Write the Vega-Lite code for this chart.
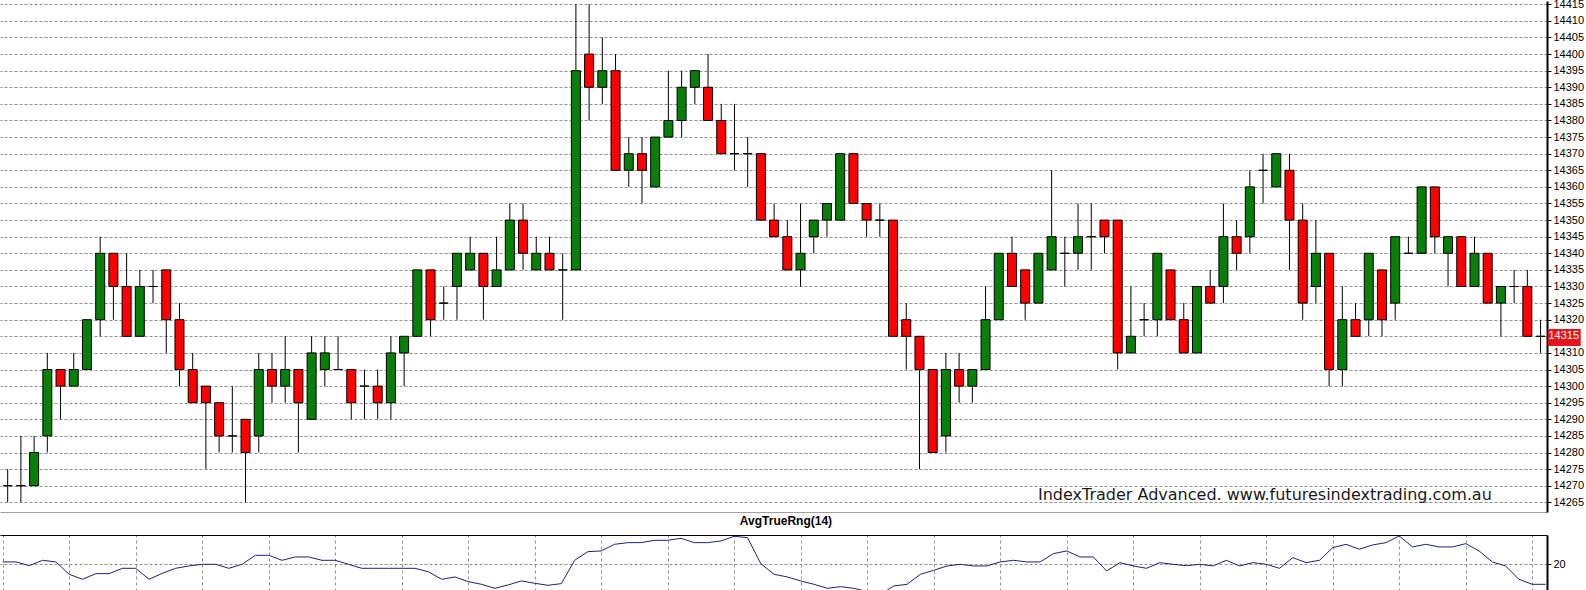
{
"$schema": "https://vega.github.io/schema/vega-lite/v6.json",
"padding": {"top": -2, "left": 0, "right": 0, "bottom": 0},
"background": "white",
"spacing": 23,
"bounds": "flush",
"config": {"view": {"stroke": null}, "font": "Liberation Sans"},
"datasets": {
"candles": [
{"i":1,"o":14270,"h":14275,"l":14265,"c":14270,"atr":20.47},
{"i":2,"o":14270,"h":14285,"l":14265,"c":14270,"atr":20.47},
{"i":3,"o":14270,"h":14285,"l":14270,"c":14280,"atr":19.73},
{"i":4,"o":14285,"h":14310,"l":14280,"c":14305,"atr":20.8},
{"i":5,"o":14305,"h":14305,"l":14290,"c":14300,"atr":20.47},
{"i":6,"o":14300,"h":14310,"l":14300,"c":14305,"atr":18.0},
{"i":7,"o":14305,"h":14320,"l":14305,"c":14320,"atr":17.0},
{"i":8,"o":14320,"h":14345,"l":14315,"c":14340,"atr":18.13},
{"i":9,"o":14340,"h":14340,"l":14320,"c":14330,"atr":18.13},
{"i":10,"o":14330,"h":14340,"l":14315,"c":14315,"atr":19.2},
{"i":11,"o":14315,"h":14335,"l":14315,"c":14330,"atr":19.2},
{"i":12,"o":14330,"h":14335,"l":14325,"c":14330,"atr":17.0},
{"i":13,"o":14335,"h":14335,"l":14310,"c":14320,"atr":18.2},
{"i":14,"o":14320,"h":14325,"l":14300,"c":14305,"atr":19.2},
{"i":15,"o":14305,"h":14310,"l":14295,"c":14295,"atr":19.67},
{"i":16,"o":14300,"h":14300,"l":14275,"c":14295,"atr":20.0},
{"i":17,"o":14295,"h":14295,"l":14280,"c":14285,"atr":20.0},
{"i":18,"o":14285,"h":14300,"l":14280,"c":14285,"atr":19.2},
{"i":19,"o":14290,"h":14290,"l":14265,"c":14280,"atr":20.0},
{"i":20,"o":14285,"h":14310,"l":14280,"c":14305,"atr":21.8},
{"i":21,"o":14305,"h":14310,"l":14295,"c":14300,"atr":21.8},
{"i":22,"o":14300,"h":14315,"l":14295,"c":14305,"atr":20.8},
{"i":23,"o":14305,"h":14305,"l":14280,"c":14295,"atr":21.47},
{"i":24,"o":14290,"h":14315,"l":14290,"c":14310,"atr":21.47},
{"i":25,"o":14305,"h":14315,"l":14300,"c":14310,"atr":20.8},
{"i":26,"o":14305,"h":14315,"l":14305,"c":14305,"atr":20.8},
{"i":27,"o":14305,"h":14305,"l":14290,"c":14295,"atr":20.0},
{"i":28,"o":14300,"h":14305,"l":14290,"c":14300,"atr":19.2},
{"i":29,"o":14300,"h":14305,"l":14290,"c":14295,"atr":19.2},
{"i":30,"o":14295,"h":14315,"l":14290,"c":14310,"atr":19.2},
{"i":31,"o":14310,"h":14315,"l":14300,"c":14315,"atr":19.2},
{"i":32,"o":14315,"h":14335,"l":14315,"c":14335,"atr":19.2},
{"i":33,"o":14335,"h":14335,"l":14315,"c":14320,"atr":18.53},
{"i":34,"o":14325,"h":14330,"l":14320,"c":14325,"atr":17.0},
{"i":35,"o":14330,"h":14340,"l":14320,"c":14340,"atr":17.47},
{"i":36,"o":14335,"h":14345,"l":14335,"c":14340,"atr":16.53},
{"i":37,"o":14340,"h":14340,"l":14320,"c":14330,"atr":16.0},
{"i":38,"o":14330,"h":14345,"l":14330,"c":14335,"atr":15.2},
{"i":39,"o":14335,"h":14355,"l":14335,"c":14350,"atr":15.87},
{"i":40,"o":14350,"h":14355,"l":14335,"c":14340,"atr":16.67},
{"i":41,"o":14335,"h":14345,"l":14335,"c":14340,"atr":16.2},
{"i":42,"o":14340,"h":14345,"l":14335,"c":14335,"atr":15.8},
{"i":43,"o":14335,"h":14340,"l":14320,"c":14335,"atr":16.13},
{"i":44,"o":14335,"h":14415,"l":14335,"c":14395,"atr":20.8},
{"i":45,"o":14400,"h":14415,"l":14380,"c":14390,"atr":22.53},
{"i":46,"o":14390,"h":14405,"l":14385,"c":14395,"atr":22.67},
{"i":47,"o":14395,"h":14400,"l":14365,"c":14365,"atr":24.0},
{"i":48,"o":14365,"h":14375,"l":14360,"c":14370,"atr":24.33},
{"i":49,"o":14370,"h":14375,"l":14355,"c":14365,"atr":24.33},
{"i":50,"o":14360,"h":14375,"l":14360,"c":14375,"atr":24.8},
{"i":51,"o":14375,"h":14395,"l":14375,"c":14380,"atr":24.8},
{"i":52,"o":14380,"h":14395,"l":14375,"c":14390,"atr":25.2},
{"i":53,"o":14390,"h":14395,"l":14385,"c":14395,"atr":24.33},
{"i":54,"o":14390,"h":14400,"l":14380,"c":14380,"atr":24.33},
{"i":55,"o":14380,"h":14385,"l":14370,"c":14370,"atr":24.67},
{"i":56,"o":14370,"h":14385,"l":14365,"c":14370,"atr":25.6},
{"i":57,"o":14370,"h":14375,"l":14360,"c":14370,"atr":25.33},
{"i":58,"o":14370,"h":14370,"l":14350,"c":14350,"atr":20.13},
{"i":59,"o":14350,"h":14355,"l":14345,"c":14345,"atr":18.0},
{"i":60,"o":14345,"h":14350,"l":14335,"c":14335,"atr":17.47},
{"i":61,"o":14335,"h":14355,"l":14330,"c":14340,"atr":16.67},
{"i":62,"o":14345,"h":14350,"l":14340,"c":14350,"atr":16.0},
{"i":63,"o":14350,"h":14355,"l":14345,"c":14355,"atr":15.2},
{"i":64,"o":14350,"h":14370,"l":14350,"c":14370,"atr":15.53},
{"i":65,"o":14370,"h":14370,"l":14355,"c":14355,"atr":15.2},
{"i":66,"o":14355,"h":14355,"l":14345,"c":14350,"atr":14.53},
{"i":67,"o":14350,"h":14355,"l":14345,"c":14350,"atr":14.0},
{"i":68,"o":14350,"h":14350,"l":14315,"c":14315,"atr":15.67},
{"i":69,"o":14320,"h":14325,"l":14305,"c":14315,"atr":16.0},
{"i":70,"o":14315,"h":14315,"l":14275,"c":14305,"atr":18.0},
{"i":71,"o":14305,"h":14305,"l":14280,"c":14280,"atr":18.8},
{"i":72,"o":14285,"h":14310,"l":14280,"c":14305,"atr":19.67},
{"i":73,"o":14305,"h":14310,"l":14295,"c":14300,"atr":20.0},
{"i":74,"o":14300,"h":14305,"l":14295,"c":14305,"atr":19.67},
{"i":75,"o":14305,"h":14330,"l":14305,"c":14320,"atr":19.67},
{"i":76,"o":14320,"h":14340,"l":14320,"c":14340,"atr":20.47},
{"i":77,"o":14340,"h":14345,"l":14330,"c":14330,"atr":20.8},
{"i":78,"o":14335,"h":14335,"l":14320,"c":14325,"atr":20.47},
{"i":79,"o":14325,"h":14340,"l":14325,"c":14340,"atr":20.47},
{"i":80,"o":14335,"h":14365,"l":14335,"c":14345,"atr":22.13},
{"i":81,"o":14340,"h":14345,"l":14330,"c":14340,"atr":22.67},
{"i":82,"o":14340,"h":14355,"l":14335,"c":14345,"atr":21.47},
{"i":83,"o":14345,"h":14355,"l":14335,"c":14345,"atr":21.47},
{"i":84,"o":14350,"h":14350,"l":14340,"c":14345,"atr":18.67},
{"i":85,"o":14350,"h":14350,"l":14305,"c":14310,"atr":20.33},
{"i":86,"o":14310,"h":14330,"l":14310,"c":14315,"atr":19.67},
{"i":87,"o":14320,"h":14325,"l":14315,"c":14320,"atr":19.2},
{"i":88,"o":14320,"h":14340,"l":14315,"c":14340,"atr":20.33},
{"i":89,"o":14335,"h":14335,"l":14320,"c":14320,"atr":20.0},
{"i":90,"o":14320,"h":14325,"l":14310,"c":14310,"atr":19.73},
{"i":91,"o":14310,"h":14330,"l":14310,"c":14330,"atr":20.0},
{"i":92,"o":14330,"h":14335,"l":14325,"c":14325,"atr":19.67},
{"i":93,"o":14330,"h":14355,"l":14325,"c":14345,"atr":20.8},
{"i":94,"o":14345,"h":14350,"l":14335,"c":14340,"atr":19.67},
{"i":95,"o":14345,"h":14365,"l":14340,"c":14360,"atr":20.33},
{"i":96,"o":14365,"h":14370,"l":14355,"c":14365,"atr":20.0},
{"i":97,"o":14360,"h":14370,"l":14360,"c":14370,"atr":19.2},
{"i":98,"o":14365,"h":14370,"l":14335,"c":14350,"atr":21.33},
{"i":99,"o":14350,"h":14355,"l":14320,"c":14325,"atr":20.33},
{"i":100,"o":14330,"h":14350,"l":14325,"c":14340,"atr":20.8},
{"i":101,"o":14340,"h":14340,"l":14300,"c":14305,"atr":23.33},
{"i":102,"o":14305,"h":14330,"l":14300,"c":14320,"atr":24.0},
{"i":103,"o":14320,"h":14325,"l":14315,"c":14315,"atr":23.0},
{"i":104,"o":14320,"h":14340,"l":14315,"c":14340,"atr":23.87},
{"i":105,"o":14335,"h":14335,"l":14315,"c":14320,"atr":24.33},
{"i":106,"o":14325,"h":14345,"l":14320,"c":14345,"atr":25.67},
{"i":107,"o":14340,"h":14345,"l":14340,"c":14340,"atr":23.47},
{"i":108,"o":14340,"h":14360,"l":14340,"c":14360,"atr":24.0},
{"i":109,"o":14360,"h":14360,"l":14340,"c":14345,"atr":23.47},
{"i":110,"o":14340,"h":14345,"l":14330,"c":14345,"atr":23.47},
{"i":111,"o":14345,"h":14345,"l":14330,"c":14330,"atr":24.13},
{"i":112,"o":14330,"h":14345,"l":14330,"c":14340,"atr":22.67},
{"i":113,"o":14340,"h":14340,"l":14325,"c":14325,"atr":20.47},
{"i":114,"o":14325,"h":14330,"l":14315,"c":14330,"atr":19.67},
{"i":115,"o":14330,"h":14335,"l":14325,"c":14330,"atr":17.0},
{"i":116,"o":14330,"h":14335,"l":14315,"c":14315,"atr":16.0},
{"i":117,"o":14315,"h":14320,"l":14310,"c":14315,"atr":16.0}
],
"lastprice": [{"price": 14315, "label": "14315", "lo": 14312.1, "hi": 14317.2}],
"watermark": [{"text": "IndexTrader Advanced. www.futuresindextrading.com.au"}],
"paneltitle": [{"text": "AvgTrueRng(14)", "pos": 59.89, "level": 28.66}]
},
"vconcat": [
{
"width": 1547,
"height": 511,
"layer": [
{
"data": {"name": "candles"},
"mark": {"type": "rule", "color": "black", "strokeWidth": 1, "clip": true},
"encoding": {
"x": {"field": "i", "type": "quantitative", "scale": {"domain": [0.797, 117.11], "nice": false, "zero": false}, "axis": {"orient": "bottom", "domainColor": "#a0a0a0", "domainWidth": 1, "ticks": false, "labels": false, "title": null, "grid": false}},
"y": {"field": "l", "type": "quantitative", "scale": {"domain": [14262.08, 14415.99], "nice": false, "zero": false},
"axis": {"orient": "right", "values": [14265,14270,14275,14280,14285,14290,14295,14300,14305,14310,14315,14320,14325,14330,14335,14340,14345,14350,14355,14360,14365,14370,14375,14380,14385,14390,14395,14400,14405,14410,14415], "tickCount": 100, "labelOverlap": false, "format": "d", "labelExpr": "datum.value == 14315 ? '' : datum.label", "grid": true, "gridDash": [3, 2], "gridColor": "#909090", "gridWidth": 1, "domainColor": "black", "domainWidth": 2, "tickColor": "black", "tickSize": 4, "labelFontSize": 11, "labelColor": "black", "labelPadding": 2, "labelFont": "Liberation Sans", "title": null}},
"y2": {"field": "h"}
}
},
{
"data": {"name": "candles"},
"mark": {"type": "bar", "size": 9, "stroke": "black", "strokeWidth": 1, "clip": true},
"encoding": {
"x": {"field": "i", "type": "quantitative"},
"y": {"field": "o", "type": "quantitative"},
"y2": {"field": "c"},
"fill": {"condition": {"test": "datum.c > datum.o", "value": "#087f08"}, "value": "#ff0000"}
}
},
{
"data": {"name": "watermark"},
"mark": {"type": "text", "font": "DejaVu Sans", "fontSize": 16, "color": "#1a1a1a", "align": "center", "baseline": "alphabetic"},
"encoding": {
"x": {"datum": 96.14, "type": "quantitative"},
"y": {"datum": 14265.6, "type": "quantitative"},
"text": {"field": "text"}
}
},
{
"data": {"name": "lastprice"},
"mark": {"type": "rect", "fill": "#e8141b"},
"encoding": {
"x": {"datum": 117.54, "type": "quantitative"},
"x2": {"datum": 120.04},
"y": {"field": "lo", "type": "quantitative"},
"y2": {"field": "hi"}
}
},
{
"data": {"name": "lastprice"},
"mark": {"type": "text", "font": "Liberation Sans", "fontSize": 11, "color": "white", "align": "left", "baseline": "middle"},
"encoding": {
"x": {"datum": 117.6, "type": "quantitative"},
"y": {"field": "price", "type": "quantitative"},
"text": {"field": "label"}
}
}
]
},
{
"width": 1547,
"height": 56,
"layer": [
{
"data": {"name": "candles"},
"mark": {"type": "line", "color": "#20207a", "strokeWidth": 1, "clip": true},
"encoding": {
"x": {"field": "i", "type": "quantitative", "scale": {"domain": [0.797, 117.11], "nice": false, "zero": false},
"axis": {"orient": "top", "values": [1,6,11,16,21,26,31,36,41,46,51,56,61,66,71,76,81,86,91,96,101,106,111,116], "tickCount": 100, "grid": true, "gridDash": [3, 3], "gridColor": "#909090", "gridWidth": 1, "domainColor": "black", "domainWidth": 1, "ticks": false, "labels": false, "title": null}},
"y": {"field": "atr", "type": "quantitative", "scale": {"domain": [14.66, 25.86], "nice": false, "zero": false},
"axis": {"orient": "right", "values": [20], "format": "d", "grid": true, "gridDash": [3, 2], "gridColor": "#909090", "gridWidth": 1, "domainColor": "black", "domainWidth": 2, "tickColor": "black", "tickSize": 4, "labelFontSize": 11, "labelColor": "black", "labelPadding": 2, "labelFont": "Liberation Sans", "title": null}}
}
},
{
"data": {"name": "paneltitle"},
"mark": {"type": "text", "font": "Liberation Sans", "fontSize": 12, "fontWeight": "bold", "color": "black", "align": "center", "baseline": "middle", "clip": false},
"encoding": {
"x": {"field": "pos", "type": "quantitative"},
"y": {"field": "level", "type": "quantitative"},
"text": {"field": "text"}
}
}
]
}
]
}
